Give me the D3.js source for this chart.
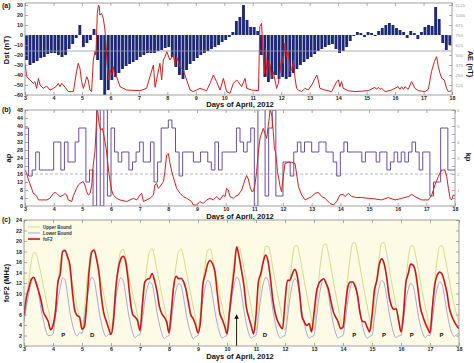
<!DOCTYPE html>
<html>
<head>
<meta charset="utf-8">
<script src="https://cdn.jsdelivr.net/npm/d3@7"></script>
<style>
  body { margin: 0; background: #fff; }
  svg { display: block; font-family: "Liberation Sans", Arial, sans-serif; }
  .ax .domain { display: none; }
  .ax line { stroke: #8a8a8a; stroke-width: 0.7; }
  .ax text { fill: #1a1a1a; font-size: 5.3px; font-weight: bold; }
  .axr text { fill: #9a9a9a; font-size: 4.4px; font-weight: normal; }
</style>
</head>
<body>
<div id="chart"></div>
<script>
/* ---------- DATA ---------- */

// Dst (nT), 3-hourly from 3 April 00 UT
var dst = [
  -25, -30, -28, -26, -23, -22, -19, -18,
  -18, -20, -22, -20, -14, -9, -3, 10,
  -12, -8, -5, 6, -25, -45, -60, -55,
  -45, -42, -38, -34, -31, -29, -27, -25,
  -22, -20, -18, -18, -18, -16, -15, -13,
  -12, -22, -32, -40, -44, -35, -29, -26,
  -23, -20, -18, -16, -14, -12, -10, -7,
  -5, -2, 3, 14, 18, 30, 15, 8,
  8, 4, -20, -42, -47, -44, -40, -44,
  -42, -44, -42, -38, -34, -30, -27, -24,
  -22, -19, -16, -14, -12, -10, -9, -14,
  -18, -16, -12, -6, -1, 3, 2, -2,
  3, 2, -1, 4, 7, 10, 12, 10,
  7, 5, 3, -3, 4, 2, -4, 3,
  8, 10, 9, 28, 16, -8, -15, -10
];

// AE (nT) as [day, value]
var ae = [
  [3.0,396],[3.06,229],[3.18,187],[3.29,146],[3.35,167],[3.41,83],[3.47,208],[3.53,125],[3.64,83],
  [3.76,112],[3.88,62],[4.0,83],[4.11,112],[4.17,146],[4.23,104],[4.29,146],[4.41,96],[4.52,42],
  [4.7,42],[4.81,292],[4.87,396],[4.93,333],[4.99,167],[5.05,83],[5.11,146],[5.17,229],[5.22,187],
  [5.28,62],[5.34,42],[5.4,437],[5.46,542],[5.49,500],[5.54,1021],[5.58,1125],[5.61,1104],[5.63,1000],
  [5.69,1021],[5.75,958],[5.81,812],[5.85,604],[5.89,354],[5.94,187],[5.99,312],[6.04,250],[6.1,354],
  [6.16,229],[6.22,229],[6.34,104],[6.57,62],[7.04,54],[7.27,83],[7.51,375],[7.57,96],[7.74,396],
  [7.8,187],[7.86,437],[7.92,479],[7.98,542],[8.09,437],[8.21,500],[8.27,375],[8.33,479],[8.44,354],
  [8.56,312],[8.68,187],[8.8,62],[8.91,42],[9.15,83],[9.38,54],[9.5,146],[9.62,250],[9.73,167],
  [9.85,62],[9.97,208],[10.08,42],[10.2,21],[10.32,146],[10.44,187],[10.49,167],[10.61,104],[10.73,208],
  [10.79,83],[10.96,62],[11.2,54],[11.22,354],[11.25,854],[11.31,896],[11.37,479],[11.41,271],[11.45,583],
  [11.5,229],[11.55,437],[11.61,375],[11.66,208],[11.72,292],[11.78,187],[11.84,83],[11.9,146],[11.96,292],
  [12.02,479],[12.07,396],[12.13,646],[12.19,479],[12.25,542],[12.31,292],[12.37,312],[12.43,437],[12.48,229],
  [12.54,83],[12.6,62],[12.72,42],[12.83,83],[12.95,62],[13.07,125],[13.19,208],[13.25,250],[13.3,187],
  [13.36,83],[13.54,62],[13.77,42],[13.95,167],[14.01,187],[14.06,104],[14.12,167],[14.18,83],[14.36,54],
  [14.59,42],[15.06,54],[15.29,96],[15.35,71],[15.41,96],[15.47,71],[15.53,83],[15.65,42],[15.88,62],
  [16.11,104],[16.17,71],[16.23,104],[16.29,71],[16.35,104],[16.46,71],[16.58,167],[16.7,83],[16.82,54],
  [17.05,42],[17.17,71],[17.28,292],[17.38,417],[17.46,479],[17.52,354],[17.58,271],[17.64,208],[17.73,187],
  [17.81,83],[17.87,42],[17.99,54]
];

// ap, 3-hourly
var ap = [
  39, 15, 18, 27, 18, 18, 18, 18,
  32, 32, 18, 32, 22, 22, 32, 39,
  39, 12, 18, 0, 80, 0, 80, 5,
  39, 27, 22, 27, 27, 18, 22, 27,
  32, 22, 22, 32, 12, 22, 39, 39,
  43, 39, 27, 15, 27, 27, 27, 22,
  22, 27, 27, 22, 18, 32, 18, 27,
  27, 27, 27, 39, 32, 27, 32, 39,
  0, 80, 80, 5, 39, 48, 5, 5,
  22, 22, 15, 27, 32, 27, 32, 32,
  27, 27, 32, 32, 27, 27, 22, 15,
  27, 32, 27, 27, 27, 27, 22, 27,
  27, 27, 22, 27, 27, 18, 22, 27,
  22, 27, 22, 27, 32, 27, 18, 27,
  27, 5, 12, 12, 39, 39, 18, 18
];

// kp as [day, value]
var kp = [
  [3.0,2.25],[3.06,2.04],[3.12,1.63],[3.17,1.41],[3.23,1.1],[3.29,0.79],[3.35,0.73],[3.41,0.59],[3.47,0.38],
  [3.76,0.38],[3.87,0.48],[3.99,0.79],[4.05,0.85],[4.1,0.79],[4.16,0.69],[4.22,0.59],[4.34,0.69],[4.4,0.79],
  [4.45,0.69],[4.51,0.38],[4.63,0.28],[4.69,0.65],[4.74,0.85],[4.8,1.1],[4.86,1.31],[4.92,1.41],[5.03,1.53],
  [5.09,1.31],[5.15,0.9],[5.21,0.69],[5.27,0.79],[5.33,1.31],[5.38,2.56],[5.44,3.38],[5.5,5.5],[5.53,6.0],
  [5.59,5.06],[5.64,4.75],[5.7,4.85],[5.76,4.34],[5.83,3.6],[5.87,2.98],[5.92,2.15],[5.97,1.53],[6.02,1.0],
  [6.08,0.69],[6.2,0.48],[6.31,0.38],[6.55,0.28],[6.78,0.48],[6.9,0.38],[7.01,0.69],[7.07,0.79],[7.13,0.28],
  [7.24,0.38],[7.36,0.48],[7.48,0.69],[7.53,1.31],[7.59,1.41],[7.65,1.1],[7.71,1.21],[7.83,1.53],[7.88,2.15],
  [7.94,3.19],[8.0,3.29],[8.06,2.66],[8.12,2.15],[8.17,1.84],[8.29,1.1],[8.41,0.79],[8.52,0.59],[8.64,0.48],
  [8.81,0.28],[8.87,0.06],[8.99,0.06],[9.1,0.28],[9.22,0.16],[9.34,0.38],[9.45,0.48],[9.57,0.38],[9.69,0.59],
  [9.8,0.38],[9.92,0.69],[9.98,0.59],[10.03,1.1],[10.09,1.0],[10.15,0.59],[10.27,0.48],[10.33,0.59],[10.44,0.69],
  [10.56,1.0],[10.67,1.63],[10.73,1.9],[10.79,1.69],[10.85,1.21],[10.91,0.9],[10.97,0.94],[11.02,1.31],[11.08,2.15],
  [11.14,3.38],[11.2,4.25],[11.31,4.85],[11.37,4.54],[11.43,4.23],[11.49,5.06],[11.55,6.0],[11.61,5.69],[11.66,4.65],
  [11.7,3.6],[11.74,3.38],[11.81,2.15],[11.9,1.21],[11.95,0.9],[12.01,1.84],[12.07,2.66],[12.19,2.73],[12.3,2.73],
  [12.42,2.66],[12.48,1.94],[12.54,1.21],[12.65,0.69],[12.77,0.38],[12.88,0.48],[13.0,0.59],[13.12,0.79],[13.23,0.85],
  [13.35,0.59],[13.47,0.48],[13.64,0.16],[13.76,0.06],[13.87,0.28],[13.99,0.69],[14.1,0.73],[14.16,0.59],[14.28,0.79],
  [14.4,0.59],[14.57,0.53],[14.74,0.53],[14.98,0.48],[15.21,0.44],[15.44,0.38],[15.67,0.53],[15.91,0.38],[16.14,0.48],
  [16.37,0.59],[16.49,0.73],[16.6,0.59],[16.84,0.38],[17.07,0.38],[17.19,0.69],[17.3,1.31],[17.42,1.84],[17.53,2.25],
  [17.65,2.25],[17.71,1.84],[17.77,1.1],[17.83,0.48],[17.88,0.38],[17.94,0.69],[18.0,0.65]
];

// foF2 (MHz), 2-hourly from 3 April 00 UT, last value at 18 April 00 UT
var foF2 = [
  5.8, 9.3, 11.0, 12.7, 13.1, 12.0, 10.5, 8.8, 6.5, 5.6, 4.7, 3.1,
  3.9, 6.5, 12.0, 13.8, 18.0, 18.2, 17.0, 15.4, 10.5, 6.8, 5.8, 5.5,
  3.2, 3.7, 8.4, 14.5, 17.9, 18.3, 16.6, 14.0, 9.5, 6.3, 4.8, 3.4,
  2.2, 4.6, 11.0, 14.7, 16.5, 17.1, 16.2, 13.0, 8.6, 6.0, 5.5, 4.8,
  2.9, 8.0, 12.2, 12.7, 12.9, 13.8, 12.5, 10.5, 7.6, 6.2, 5.5, 4.6,
  2.5, 6.8, 11.6, 13.3, 12.8, 12.9, 12.3, 10.8, 8.4, 6.0, 5.2, 4.0,
  2.5, 4.5, 11.5, 13.7, 15.6, 16.3, 15.7, 14.1, 10.0, 6.3, 5.1, 3.8,
  2.3, 6.5, 10.6, 14.5, 18.9, 17.0, 14.4, 11.6, 7.4, 5.5, 3.9, 2.3,
  5.8, 12.2, 13.8, 16.0, 17.3, 16.1, 12.8, 8.7, 6.2, 4.7, 3.8, 3.3,
  8.4, 12.5, 12.5, 13.7, 14.6, 13.5, 10.3, 5.7, 4.6, 3.9, 4.3, 2.7,
  6.2, 10.2, 11.9, 12.5, 12.8, 11.9, 10.8, 8.5, 6.5, 5.5, 4.6, 3.3,
  3.6, 7.6, 11.2, 12.2, 12.2, 11.4, 9.7, 6.5, 4.7, 4.6, 3.6, 2.7,
  5.8, 10.6, 12.5, 15.5, 16.6, 15.7, 13.3, 9.7, 7.7, 7.0, 7.1, 4.9,
  2.7, 5.8, 11.9, 13.8, 15.6, 15.4, 14.1, 10.9, 7.4, 5.7, 4.4, 3.4,
  2.5, 7.4, 11.7, 13.5, 14.1, 13.7, 12.2, 10.2, 7.2, 5.7, 4.7, 3.9,
  3.3
];

var upperBound = [
  5.8, 9.0, 12.5, 16.0, 17.8, 17.6, 15.8, 13.8, 11.5, 9.2, 7.0, 5.0,
  3.2, 6.5, 11.8, 15.8, 18.2, 18.4, 16.6, 14.2, 12.0, 9.6, 7.4, 5.2,
  3.2, 6.8, 12.0, 15.8, 18.2, 18.4, 16.8, 14.3, 12.0, 9.8, 7.6, 5.4,
  3.0, 6.5, 11.8, 15.6, 18.0, 18.5, 17.0, 14.5, 12.0, 9.8, 8.0, 5.6,
  3.2, 6.8, 11.8, 15.6, 18.0, 18.5, 17.0, 14.5, 12.2, 9.8, 7.6, 5.4,
  3.0, 6.6, 11.8, 15.6, 18.0, 18.5, 17.0, 14.6, 12.2, 9.8, 7.6, 5.4,
  3.0, 6.8, 12.0, 15.8, 18.2, 18.5, 17.0, 14.6, 12.2, 9.8, 7.6, 5.4,
  3.0, 7.0, 12.2, 16.2, 18.8, 18.9, 17.2, 14.8, 12.2, 9.8, 7.4, 5.0,
  3.0, 7.2, 12.5, 16.4, 19.0, 19.0, 17.4, 14.8, 12.2, 9.8, 7.4, 5.0,
  3.0, 7.2, 12.5, 16.5, 19.0, 19.1, 17.4, 14.9, 12.3, 9.8, 7.4, 5.0,
  3.0, 7.4, 12.8, 16.8, 19.3, 19.4, 17.6, 15.0, 12.4, 9.9, 7.5, 5.0,
  3.2, 7.6, 13.0, 17.0, 19.6, 19.7, 17.8, 15.2, 12.5, 10.0, 7.6, 5.2,
  3.2, 7.6, 13.0, 17.0, 19.6, 19.7, 17.8, 15.2, 12.5, 10.0, 7.6, 5.2,
  3.2, 7.4, 12.6, 16.6, 19.0, 19.1, 17.4, 15.0, 12.4, 9.9, 7.6, 5.4,
  3.4, 7.4, 12.6, 16.6, 19.0, 19.1, 17.4, 15.0, 12.4, 10.0, 7.8, 6.0,
  4.6
];

var lowerBound = [
  4.6, 7.5, 10.0, 12.2, 13.1, 12.2, 10.3, 7.1, 5.0, 3.0, 2.0, 2.0,
  2.3, 5.5, 8.5, 11.2, 13.0, 12.6, 9.8, 6.5, 4.2, 2.6, 1.9, 2.5,
  2.4, 5.2, 8.8, 11.5, 13.1, 12.5, 10.0, 6.8, 4.4, 2.6, 1.8, 2.2,
  2.2, 5.3, 9.0, 11.6, 13.0, 12.5, 10.0, 6.8, 4.4, 2.5, 1.6, 2.0,
  2.2, 5.0, 8.6, 11.0, 12.2, 11.8, 9.5, 6.5, 4.2, 2.4, 1.4, 1.8,
  2.0, 5.0, 8.4, 10.8, 11.9, 11.5, 9.3, 6.4, 4.1, 2.4, 1.4, 1.8,
  2.0, 5.2, 8.8, 11.2, 12.5, 12.0, 9.6, 6.6, 4.2, 2.4, 1.5, 1.8,
  2.0, 5.4, 9.2, 11.8, 13.1, 12.5, 10.0, 6.8, 4.3, 2.4, 1.5, 1.8,
  2.0, 5.4, 9.2, 11.8, 13.1, 12.5, 10.0, 6.8, 4.3, 2.4, 1.5, 1.8,
  2.0, 5.3, 9.0, 11.6, 12.8, 12.3, 9.8, 6.7, 4.2, 2.4, 1.5, 1.8,
  2.0, 5.3, 9.0, 11.6, 12.8, 12.3, 9.8, 6.7, 4.2, 2.4, 1.5, 1.8,
  2.0, 5.0, 8.6, 11.0, 12.2, 11.8, 9.4, 6.4, 4.0, 2.3, 1.5, 1.8,
  2.0, 5.2, 8.8, 11.3, 12.5, 12.0, 9.6, 6.6, 4.2, 2.4, 1.6, 1.9,
  2.0, 5.0, 8.5, 10.8, 11.9, 11.5, 9.2, 6.3, 4.0, 2.4, 1.6, 2.0,
  2.0, 5.0, 8.6, 11.0, 12.2, 11.8, 9.4, 6.5, 4.1, 2.5, 1.8, 2.2,
  2.4
];

// day markers on the foF2 panel
var dayMarks = [
  {day: 4.35, label: "P"}, {day: 5.35, label: "D"}, {day: 11.31, label: "D"},
  {day: 14.39, label: "P"}, {day: 15.41, label: "P"}, {day: 16.37, label: "P"}, {day: 17.4, label: "P"}
];
var arrowDay = 10.33;

var dayTicks = d3.range(3, 19);
var dstTicks = d3.range(-60, 31, 10);
var aeTicks = d3.range(0, 1126, 125);
var apTicks = d3.range(0, 49, 4);
var kpTicks = d3.range(0, 6.1, 0.5);
var foTicks = d3.range(0, 25, 2);

/* ---------- SETUP ---------- */

var svg = d3.select("#chart").append("svg").attr("width", 474).attr("height", 363);
svg.append("rect").attr("width", 474).attr("height", 363).attr("fill", "#fff");
var defs = svg.append("defs");

var frameColor = "#8a8a8a";

function clipFor(id, x0, x1, y0, y1) {
  defs.append("clipPath").attr("id", id).append("rect")
    .attr("x", x0).attr("y", y0).attr("width", x1 - x0).attr("height", y1 - y0);
  return "url(#" + id + ")";
}

function drawFrame(x, yTop, yBot) {
  svg.append("rect")
    .attr("x", x.range()[0]).attr("y", yTop)
    .attr("width", x.range()[1] - x.range()[0]).attr("height", yBot - yTop)
    .attr("fill", "none").attr("stroke", frameColor).attr("stroke-width", 0.8);
}

function dayAxes(x, yTop, yBot, labelY) {
  svg.append("g").attr("class", "ax").attr("transform", "translate(0," + yBot + ")")
    .call(d3.axisBottom(x).tickValues(dayTicks).tickSize(-3).tickPadding(1).tickFormat(d3.format("d")));
  svg.append("g").attr("class", "ax").attr("transform", "translate(0," + yTop + ")")
    .call(d3.axisTop(x).tickValues(dayTicks).tickSize(-3).tickFormat(""));
  svg.append("text").attr("x", 240).attr("y", labelY).attr("text-anchor", "middle")
    .attr("font-size", 7.6).attr("font-weight", "bold").attr("fill", "#111")
    .text("Days of April, 2012");
}

function yTitle(txt, x, y) {
  svg.append("text").attr("transform", "translate(" + x + "," + y + ") rotate(-90)")
    .attr("text-anchor", "middle").attr("font-size", 7.5).attr("font-weight", "bold")
    .attr("fill", "#111").text(txt);
}

function panelTag(txt, y) {
  svg.append("text").attr("x", 2).attr("y", y).attr("font-size", 7)
    .attr("font-weight", "bold").attr("fill", "#111").text(txt);
}

/* ---------- PANEL (a): Dst + AE ---------- */

var xA = d3.scaleLinear().domain([3, 18]).range([25, 452]);
var yDst = d3.scaleLinear().domain([-60, 32]).range([95, 3]);
var yAE = d3.scaleLinear().domain([0, 1150]).range([95, 3]);
var clipA = clipFor("clipA", 25, 452, 3, 95);

var gA = svg.append("g").attr("clip-path", clipA);
gA.selectAll("rect.dst").data(dst).join("rect")
  .attr("class", "dst")
  .attr("x", (d, i) => xA(3 + i / 8))
  .attr("width", (d, i) => xA(3 + (i + 1) / 8) - xA(3 + i / 8) - 0.7)
  .attr("y", d => yDst(Math.max(d, 0)))
  .attr("height", d => Math.abs(yDst(d) - yDst(0)))
  .attr("fill", "#1c2878");

gA.append("line").attr("x1", 25).attr("x2", 452)
  .attr("y1", yDst(-16)).attr("y2", yDst(-16))
  .attr("stroke", "#9a9a9a").attr("stroke-width", 0.8);

gA.append("path").datum(ae)
  .attr("d", d3.line().x(d => xA(d[0])).y(d => yAE(d[1])))
  .attr("fill", "none").attr("stroke", "#d0201e").attr("stroke-width", 1);

drawFrame(xA, 3, 95);
dayAxes(xA, 3, 95, 107);
svg.append("g").attr("class", "ax")
  .attr("transform", "translate(" + xA.range()[0] + ",0)")
  .call(d3.axisLeft(yDst).tickValues(dstTicks).tickSize(-3).tickPadding(2));
svg.append("g").attr("class", "ax axr")
  .attr("transform", "translate(" + xA.range()[1] + ",0)")
  .call(d3.axisRight(yAE).tickValues(aeTicks.slice(1)).tickSize(-3).tickPadding(3.5).tickFormat(d3.format("d")));
yTitle("Dst (nT)", 9, 50);
svg.append("text").attr("transform", "translate(468,64) rotate(90)")
  .attr("text-anchor", "middle").attr("font-size", 7.5).attr("font-weight", "bold")
  .attr("fill", "#111").text("AE (nT)");
panelTag("(a)", 8);

/* ---------- PANEL (b): ap + kp ---------- */

var xB = d3.scaleLinear().domain([3, 18]).range([25, 455]);
var yAp = d3.scaleLinear().domain([0, 48]).range([206, 110]);
var yKp = d3.scaleLinear().domain([0, 6]).range([206, 110]);
var clipB = clipFor("clipB", 25, 455, 110, 206);

var gB = svg.append("g").attr("clip-path", clipB);
gB.append("line").attr("x1", 25).attr("x2", 455)
  .attr("y1", yAp(16)).attr("y2", yAp(16))
  .attr("stroke", "#9a9a9a").attr("stroke-width", 0.7).attr("stroke-dasharray", "3,2");

var apPts = ap.map((v, i) => [3 + i / 8, v]);
apPts.push([18, ap[ap.length - 1]]);
gB.append("path").datum(apPts)
  .attr("d", d3.line().curve(d3.curveStepAfter).x(d => xB(d[0])).y(d => yAp(d[1])))
  .attr("fill", "none").attr("stroke", "#6a4fa0").attr("stroke-width", 1);

gB.append("path").datum(kp)
  .attr("d", d3.line().x(d => xB(d[0])).y(d => yKp(d[1])))
  .attr("fill", "none").attr("stroke", "#d0201e").attr("stroke-width", 1);

drawFrame(xB, 110, 206);
dayAxes(xB, 110, 206, 218.6);
svg.append("g").attr("class", "ax")
  .attr("transform", "translate(" + xB.range()[0] + ",0)")
  .call(d3.axisLeft(yAp).tickValues(apTicks).tickSize(-3).tickPadding(2));
svg.append("g").attr("class", "ax axr")
  .attr("transform", "translate(" + xB.range()[1] + ",0)")
  .call(d3.axisRight(yKp).tickValues(kpTicks).tickSize(-3).tickPadding(2)
    .tickFormat(d => (d % 1 === 0 && d > 0) ? d : ""));
yTitle("ap", 11, 158);
svg.append("text").attr("transform", "translate(466,157) rotate(90)")
  .attr("text-anchor", "middle").attr("font-size", 7.5).attr("font-weight", "bold")
  .attr("fill", "#111").text("kp");
panelTag("(b)", 112);

/* ---------- PANEL (c): foF2 ---------- */

var xC = d3.scaleLinear().domain([3, 18]).range([24, 459]);
var yF = d3.scaleLinear().domain([0, 24]).range([346, 220]);
var clipC = clipFor("clipC", 24, 459, 220, 346);

svg.append("rect").attr("x", 24).attr("y", 220).attr("width", 435).attr("height", 126)
  .attr("fill", "#fdfbe6");

var gC = svg.append("g").attr("clip-path", clipC);
var foLine = d3.line().curve(d3.curveMonotoneX).x((d, i) => xC(3 + i / 12)).y(d => yF(d));

gC.append("path").datum(upperBound).attr("d", foLine)
  .attr("fill", "none").attr("stroke", "#d3dd84").attr("stroke-width", 1);
gC.append("path").datum(lowerBound).attr("d", foLine)
  .attr("fill", "none").attr("stroke", "#aaa6d8").attr("stroke-width", 1);
gC.append("path").datum(foF2).attr("d", foLine)
  .attr("fill", "none").attr("stroke", "#c8161c").attr("stroke-width", 1.6);

gC.selectAll("text.mark").data(dayMarks).join("text")
  .attr("class", "mark")
  .attr("x", d => xC(d.day)).attr("y", yF(1.8))
  .attr("text-anchor", "middle").attr("font-size", 6).attr("font-weight", "bold")
  .attr("fill", "#111").text(d => d.label);

// arrow
defs.append("marker").attr("id", "arrowHead").attr("viewBox", "0 0 10 10")
  .attr("refX", 5).attr("refY", 5).attr("markerWidth", 5).attr("markerHeight", 5)
  .attr("orient", "auto-start-reverse")
  .append("path").attr("d", "M0,0L10,5L0,10Z").attr("fill", "#000");
svg.append("line")
  .attr("x1", xC(arrowDay)).attr("x2", xC(arrowDay))
  .attr("y1", yF(0)).attr("y2", yF(5.6))
  .attr("stroke", "#000").attr("stroke-width", 0.9)
  .attr("marker-end", "url(#arrowHead)");

// legend
var legend = [
  {name: "Upper Bound", color: "#d3dd84", w: 1},
  {name: "Lower Bound", color: "#aaa6d8", w: 1},
  {name: "foF2", color: "#c8161c", w: 1.6}
];
var lg = svg.append("g").attr("transform", "translate(28,227)");
lg.selectAll("line").data(legend).join("line")
  .attr("x1", 0).attr("x2", 12)
  .attr("y1", (d, i) => i * 6).attr("y2", (d, i) => i * 6)
  .attr("stroke", d => d.color).attr("stroke-width", d => d.w);
lg.selectAll("text").data(legend).join("text")
  .attr("x", 15).attr("y", (d, i) => i * 6 + 1.6)
  .attr("font-size", 4.5).attr("font-weight", "bold").attr("fill", "#333")
  .text(d => d.name);

drawFrame(xC, 220, 346);
dayAxes(xC, 220, 346, 359);
svg.append("g").attr("class", "ax")
  .attr("transform", "translate(" + xC.range()[0] + ",0)")
  .call(d3.axisLeft(yF).tickValues(foTicks).tickSize(-3).tickPadding(2));
svg.append("g").attr("class", "ax")
  .attr("transform", "translate(" + xC.range()[1] + ",0)")
  .call(d3.axisRight(yF).tickValues(foTicks).tickSize(-3).tickFormat(""));
yTitle("foF2 (MHz)", 9, 283);
panelTag("(c)", 222);
</script>
</body>
</html>
